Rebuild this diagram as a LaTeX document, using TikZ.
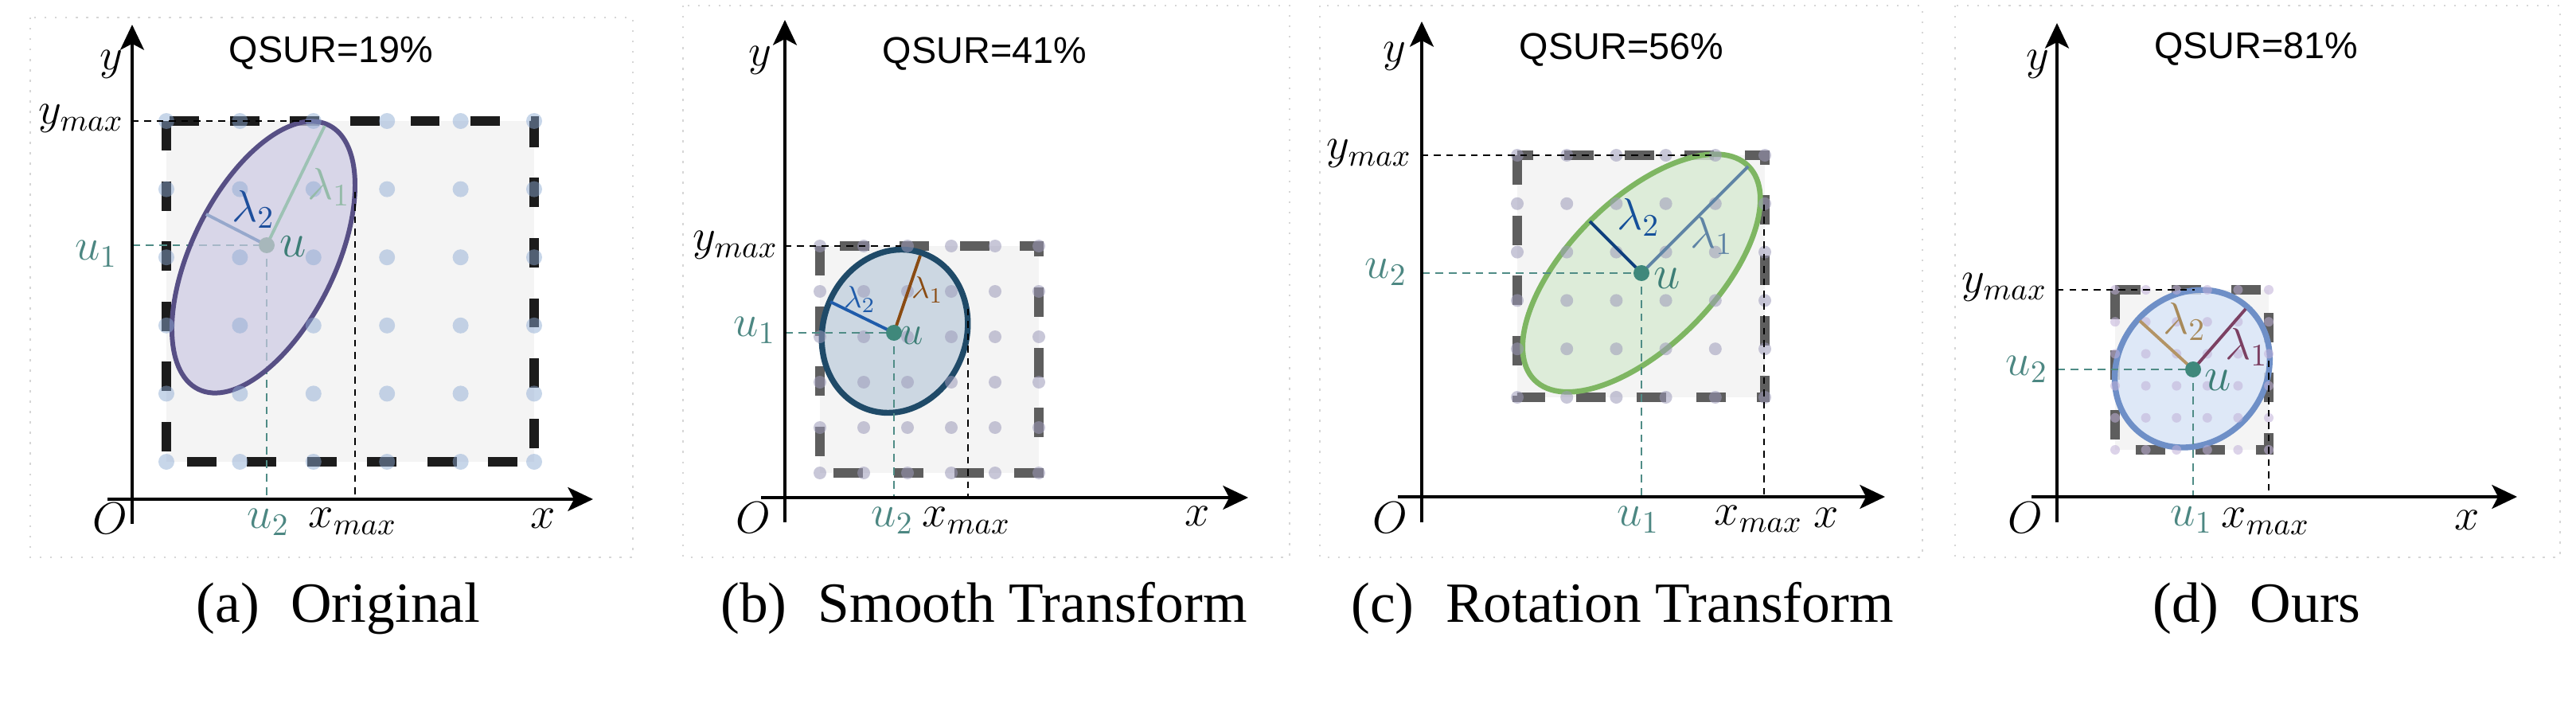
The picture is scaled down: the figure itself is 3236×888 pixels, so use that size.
\RequirePackage{fix-cm}
\documentclass[tikz,border=0pt]{standalone}
\usepackage{fontspec}
\newfontfamily\qsurfont{Liberation Sans}
\newfontfamily\capfont{Liberation Serif}
\usetikzlibrary{arrows.meta}

\definecolor{tealG}{HTML}{4C8782}
\definecolor{tealU}{HTML}{3D7E76}
\definecolor{tealD}{HTML}{4F8C86}
\definecolor{udot}{HTML}{3F887B}
\definecolor{udotA}{HTML}{A7B7BB}
\definecolor{boxA}{HTML}{1C1C1C}
\definecolor{boxB}{HTML}{5E5E5E}
\definecolor{fillG}{HTML}{F4F4F4}
\definecolor{dotAc}{HTML}{8CAAD3}
\definecolor{dotBc}{HTML}{9C9AB9}
\definecolor{dotDc}{HTML}{C0B0D8}
\definecolor{ellAf}{HTML}{CDCAE3}
\definecolor{ellAd}{HTML}{574F85}
\definecolor{ellBf}{HTML}{C5D3DF}
\definecolor{ellBd}{HTML}{1F4A68}
\definecolor{ellCf}{HTML}{D8EAD3}
\definecolor{ellCd}{HTML}{7EB662}
\definecolor{ellDf}{HTML}{D9E5F8}
\definecolor{ellDd}{HTML}{6E8FC7}
\definecolor{lamAa}{HTML}{9DC2B4}
\definecolor{lamAat}{HTML}{95BBA9}
\definecolor{lamAb}{HTML}{96A8CC}
\definecolor{lamAbt}{HTML}{1E4F9C}
\definecolor{lamBa}{HTML}{8A4B12}
\definecolor{lamBb}{HTML}{1F5BAA}
\definecolor{lamCa}{HTML}{5F84A5}
\definecolor{lamCb}{HTML}{0E3F7D}
\definecolor{lamCbt}{HTML}{15509A}
\definecolor{lamDa}{HTML}{7C4062}
\definecolor{lamDb}{HTML}{B39465}
\definecolor{lamDbt}{HTML}{A88A5A}

\tikzset{
  panel/.style={draw=black!16, line width=0.7pt, dash pattern=on 0.7pt off 3pt},
  axis/.style={line width=1.1pt, -{Stealth[length=9pt,width=8.5pt,inset=2.2pt]}},
  qbox/.style={line width=3.3pt, dash pattern=on 10.5pt off 11pt},
  guideK/.style={draw=black, line width=0.8pt, dash pattern=on 2.4pt off 2pt},
  guideT/.style={draw=tealD, line width=0.8pt, dash pattern=on 2.8pt off 2pt},
  mlab/.style={inner sep=0pt, font=\fontsize{16}{19}\selectfont},
  slab/.style={inner sep=0pt, font=\fontsize{11}{13}\selectfont},
  ulab/.style={inner sep=0pt, font=\fontsize{17}{20}\selectfont, text=tealU},
  qsur/.style={inner sep=0pt, font=\qsurfont\fontsize{13.3}{16}\selectfont},
  capt/.style={inner sep=0pt, font=\capfont\fontsize{20.3}{24}\selectfont},
  lam/.style={line width=1.1pt},
  dotA/.style={fill=dotAc, fill opacity=0.48},
  dotB/.style={fill=dotBc, fill opacity=0.55},
  dotD/.style={fill=dotDc, fill opacity=0.55},
  ellA/.style={fill=ellAf, fill opacity=0.7, draw=ellAd, line width=1.7pt},
  ellB/.style={fill=ellBf, fill opacity=0.85, draw=ellBd, line width=2.1pt},
  ellC/.style={fill=ellCf, fill opacity=0.8, draw=ellCd, line width=1.9pt},
  ellD/.style={fill=ellDf, fill opacity=0.8, draw=ellDd, line width=2.1pt},
}

\newcommand\mydotgrid[6]{%
  \foreach \i in {0,...,5}{\foreach \j in {0,...,5}{%
    \fill[#6] ({#1+\i*(#2-#1)/5},{#3+\j*(#4-#3)/5}) circle[radius=#5];}}}

\begin{document}
\begin{tikzpicture}[x=0.01cm,y=-0.01cm]
\useasboundingbox (0,0) rectangle (3236,888);
\fill[white] (0,0) rectangle (3236,888);

% ================= Panel (a) =================
\draw[panel] (38,22) rectangle (795,700);
\fill[fillG] (209,152) rectangle (671,580);
\draw[qbox, draw=boxA] (209,152) rectangle (671,580);
\coordinate (au) at (335,308);
\coordinate (ac) at (331,323);
\coordinate (ayb) at (166,658); \coordinate (ayt) at (166,31);
\coordinate (axl) at (135,627); \coordinate (axr) at (745,627);
\coordinate (aT) at (393,152); \coordinate (aR) at (446,241);
\coordinate (al1) at (408,158); \coordinate (al2) at (259,269);
\draw[guideT] (ayb |- au) -- (au);
\draw[guideT] (au) -- (au |- axl);
\draw[ellA, rotate around={63.7:(ac)}] (ac) ellipse[x radius=185, y radius=90];
\mydotgrid{209}{671}{152}{580}{10}{dotA}
\draw[guideK] (ayt |- aT) -- (aT);
\draw[guideK] (aR) -- (aR |- axl);
\draw[axis] (ayb) -- (ayt);
\draw[axis] (axl) -- (axr);
\draw[lam, draw=lamAa] (au) -- (al1);
\draw[lam, draw=lamAb] (au) -- (al2);
\fill[udotA] (au) circle[radius=10];
\node[mlab] (ay) at (140,81) {$y$};
\node[qsur] (aq) at (416,67) {QSUR=19\%};
\node[mlab] (aym) at (102,149) {$y_{max}$};
\node[mlab, text=tealG] (au1) at (121,319) {$u_1$};
\node[mlab, text=lamAbt] (alb) at (318,263) {$\lambda_2$};
\node[mlab, text=lamAat] (ala) at (413,235) {$\lambda_1$};
\node[ulab] (aul) at (368,310) {$u$};
\node[mlab, text=tealG] (au2) at (337,656) {$u_2$};
\node[mlab] (axm) at (443,655) {$x_{max}$};
\node[mlab] (aO) at (138,651) {$O$};
\node[mlab] (ax) at (682,651) {$x$};
\node[capt] (acap) at (425,764) {(a)\hskip0.55em Original};

% ================= Panel (b) =================
\draw[panel] (858,7) rectangle (1620,700);
\fill[fillG] (1030,309) rectangle (1305,594);
\draw[qbox, draw=boxB] (1030,309) rectangle (1305,594);
\coordinate (bu) at (1123,418);
\coordinate (bc) at (1124,416);
\coordinate (byb) at (986,656); \coordinate (byt) at (986,25);
\coordinate (bxl) at (956,625); \coordinate (bxr) at (1568,625);
\coordinate (bT) at (1132,309); \coordinate (bR) at (1216,388);
\coordinate (bl1) at (1156,321); \coordinate (bl2) at (1043,379);
\draw[ellB, rotate around={70:(bc)}] (bc) ellipse[x radius=104, y radius=90];
\mydotgrid{1030}{1305}{309}{594}{8}{dotB}
\draw[guideT] (byb |- bu) -- (bu);
\draw[guideT] (bu) -- (bu |- bxl);
\draw[guideK] (byt |- bT) -- (bT);
\draw[guideK] (bR) -- (bR |- bxl);
\draw[axis] (byb) -- (byt);
\draw[axis] (bxl) -- (bxr);
\draw[lam, draw=lamBa] (bu) -- (bl1);
\draw[lam, draw=lamBb] (bu) -- (bl2);
\fill[udot] (bu) circle[radius=10];
\node[mlab] (by) at (955,76) {$y$};
\node[qsur] (bq) at (1237,68) {QSUR=41\%};
\node[mlab] (bym) at (924,308) {$y_{max}$};
\node[mlab, text=tealG] (bu1) at (948,415) {$u_1$};
\node[slab, text=lamBb] (blb) at (1080,376) {$\lambda_2$};
\node[slab, text=lamBa] (bla) at (1165,364) {$\lambda_1$};
\node[ulab, font=\fontsize{14.5}{17}\selectfont] (bul) at (1146,422) {$u$};
\node[mlab, text=tealG] (bu2) at (1121,654) {$u_2$};
\node[mlab] (bxm) at (1214,654) {$x_{max}$};
\node[mlab] (bO) at (946,650) {$O$};
\node[mlab] (bx) at (1504,648) {$x$};
\node[capt] (bcap) at (1236,764) {(b)\hskip0.55em Smooth Transform};

% ================= Panel (c) =================
\draw[panel] (1658,7) rectangle (2415,700);
\fill[fillG] (1906,195) rectangle (2217,499);
\draw[qbox, draw=boxB] (1906,195) rectangle (2217,499);
\coordinate (cu) at (2062,343);
\coordinate (cyb) at (1786,656); \coordinate (cyt) at (1786,27);
\coordinate (cxl) at (1756,624); \coordinate (cxr) at (2368,624);
\coordinate (cT) at (2156,195); \coordinate (cR) at (2216,257);
\coordinate (cl1) at (2196,209); \coordinate (cl2) at (1997,278);
\draw[ellC, rotate around={45:(cu)}] (cu) ellipse[x radius=190, y radius=92];
\mydotgrid{1906}{2217}{195}{499}{8}{dotB}
\draw[guideT] (cyb |- cu) -- (cu);
\draw[guideT] (cu) -- (cu |- cxl);
\draw[guideK] (cyt |- cT) -- (cT);
\draw[guideK] (cR) -- (cR |- cxl);
\draw[axis] (cyb) -- (cyt);
\draw[axis] (cxl) -- (cxr);
\draw[lam, draw=lamCa] (cu) -- (cl1);
\draw[lam, draw=lamCb] (cu) -- (cl2);
\fill[udot] (cu) circle[radius=10];
\node[mlab] (cy) at (1752,71) {$y$};
\node[qsur] (cq) at (2037,63) {QSUR=56\%};
\node[mlab] (cym) at (1720,193) {$y_{max}$};
\node[mlab, text=tealG] (cu2) at (1741,342) {$u_2$};
\node[mlab, text=lamCbt] (clb) at (2058,273) {$\lambda_2$};
\node[mlab, text=lamCa] (cla) at (2150,296) {$\lambda_1$};
\node[ulab] (cul) at (2094,350) {$u$};
\node[mlab, text=tealG] (cu1) at (2058,653) {$u_1$};
\node[mlab] (cxm) at (2209,652) {$x_{max}$};
\node[mlab] (cO) at (1746,650) {$O$};
\node[mlab] (cx) at (2294,650) {$x$};
\node[capt] (ccap) at (2038,764) {(c)\hskip0.55em Rotation Transform};

% ================= Panel (d) =================
\draw[panel] (2456,7) rectangle (3216,700);
\fill[fillG] (2657,364) rectangle (2850,565);
\draw[qbox, draw=boxB] (2657,364) rectangle (2850,565);
\coordinate (du) at (2755,464);
\coordinate (dc) at (2754,463);
\coordinate (dyb) at (2584,656); \coordinate (dyt) at (2584,29);
\coordinate (dxl) at (2552,624); \coordinate (dxr) at (3162,624);
\coordinate (dT) at (2757,364); \coordinate (dR) at (2850,453);
\coordinate (dl1) at (2821,388); \coordinate (dl2) at (2688,403);
\draw[ellD, rotate around={48.6:(dc)}] (dc) ellipse[x radius=104, y radius=92];
\mydotgrid{2657}{2850}{364}{565}{6}{dotD}
\draw[guideT] (dyb |- du) -- (du);
\draw[guideT] (du) -- (du |- dxl);
\draw[guideK] (dyt |- dT) -- (dT);
\draw[guideK] (dR) -- (dR |- dxl);
\draw[axis] (dyb) -- (dyt);
\draw[axis] (dxl) -- (dxr);
\draw[lam, draw=lamDa] (du) -- (dl1);
\draw[lam, draw=lamDb] (du) -- (dl2);
\fill[udot] (du) circle[radius=10];
\node[mlab] (dy) at (2560,81) {$y$};
\node[qsur] (dq) at (2834,62) {QSUR=81\%};
\node[mlab] (dym) at (2518,361) {$y_{max}$};
\node[mlab, text=tealG] (du2) at (2546,464) {$u_2$};
\node[mlab, text=lamDbt] (dlb) at (2744,404) {$\lambda_2$};
\node[mlab, text=lamDa] (dla) at (2822,436) {$\lambda_1$};
\node[ulab] (dul) at (2786,478) {$u$};
\node[mlab, text=tealG] (du1) at (2753,653) {$u_1$};
\node[mlab] (dxm) at (2846,655) {$x_{max}$};
\node[mlab] (dO) at (2544,650) {$O$};
\node[mlab] (dx) at (3099,653) {$x$};
\node[capt] (dcap) at (2835,764) {(d)\hskip0.55em Ours};
\end{tikzpicture}
\end{document}
